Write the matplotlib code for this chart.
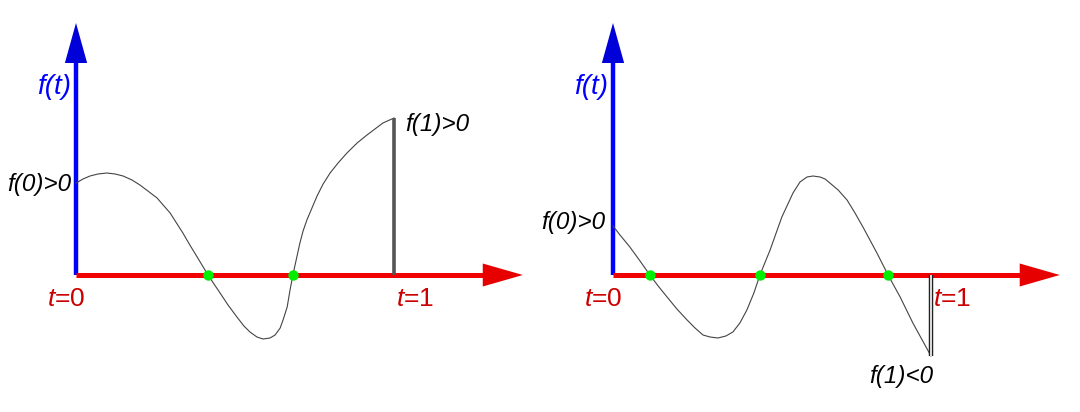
import numpy as np
import matplotlib.pyplot as plt

plt.rcParams['font.family'] = ['Liberation Sans', 'DejaVu Sans']
plt.rcParams['mathtext.fontset'] = 'custom'
plt.rcParams['mathtext.it'] = 'Liberation Sans:italic'
plt.rcParams['mathtext.rm'] = 'Liberation Sans'

# left panel: f(0)>0 and f(1)>0, two roots
t_left = [0.0, 0.022, 0.044, 0.069, 0.097, 0.123, 0.148, 0.176, 0.201, 0.226,
          0.255, 0.274, 0.296, 0.314, 0.336, 0.358, 0.381, 0.415, 0.453, 0.478,
          0.506, 0.528, 0.547, 0.569, 0.588, 0.610, 0.626, 0.642, 0.651, 0.664,
          0.673, 0.682, 0.704, 0.714, 0.726, 0.742, 0.758, 0.777, 0.799, 0.824,
          0.852, 0.884, 0.915, 0.940, 0.965, 1.0]
f_left = [0.92, 0.96, 0.99, 1.01, 1.02, 1.01, 0.99, 0.95, 0.90, 0.84,
          0.77, 0.70, 0.62, 0.53, 0.42, 0.30, 0.18, 0.0, -0.18, -0.30,
          -0.42, -0.51, -0.57, -0.62, -0.64, -0.63, -0.60, -0.53, -0.45, -0.32,
          -0.15, 0.0, 0.32, 0.44, 0.55, 0.67, 0.79, 0.91, 1.02, 1.12,
          1.22, 1.32, 1.40, 1.46, 1.52, 1.57]
roots_left = [0.415, 0.682]

# right panel: f(0)>0 and f(1)<0, three roots
t_right = [0.0, 0.022, 0.053, 0.085, 0.116, 0.142, 0.170, 0.201, 0.233, 0.258,
           0.283, 0.305, 0.330, 0.355, 0.377, 0.399, 0.421, 0.443, 0.462, 0.494,
           0.513, 0.531, 0.550, 0.566, 0.588, 0.610, 0.629, 0.651, 0.667, 0.682,
           0.708, 0.736, 0.761, 0.786, 0.808, 0.830, 0.865, 0.903, 0.943, 1.0]
f_right = [0.49, 0.40, 0.28, 0.14, 0.0, -0.11, -0.22, -0.34, -0.45, -0.53,
           -0.60, -0.62, -0.63, -0.61, -0.57, -0.48, -0.35, -0.18, 0.0, 0.25,
           0.42, 0.58, 0.71, 0.82, 0.93, 0.98, 0.99, 0.98, 0.96, 0.92,
           0.85, 0.75, 0.62, 0.48, 0.35, 0.22, 0.0, -0.22, -0.48, -0.81]
roots_right = [0.116, 0.462, 0.865]

start_labels = ['f(0)>0', 'f(0)>0']
end_labels = ['f(1)>0', 'f(1)<0']

T_ARROW_END = 1.405
T_HEAD_LEN = 0.126
F_HEAD_HALF = 0.115
F_ARROW_END = 2.52
F_HEAD_LEN = 0.40
T_HEAD_HALF = 0.035


def draw_axes_arrows(ax):
    # red t axis
    ax.plot([0, T_ARROW_END - T_HEAD_LEN], [0, 0], color='#f00000', lw=3.6,
            solid_capstyle='butt', zorder=3)
    ax.fill([T_ARROW_END - T_HEAD_LEN, T_ARROW_END, T_ARROW_END - T_HEAD_LEN],
            [F_HEAD_HALF, 0, -F_HEAD_HALF], color='#e60000', lw=0, zorder=3)
    # blue f axis
    ax.plot([0, 0], [0, F_ARROW_END - F_HEAD_LEN], color='#0000ff', lw=3.2,
            solid_capstyle='butt', zorder=2)
    ax.fill([-T_HEAD_HALF, 0, T_HEAD_HALF],
            [F_ARROW_END - F_HEAD_LEN, F_ARROW_END, F_ARROW_END - F_HEAD_LEN],
            color='#0000d8', lw=0, zorder=2)


fig = plt.figure(figsize=(10.8, 4.12), dpi=100)
fig.patch.set_facecolor('white')

ax1 = fig.add_axes([0, 0, 0.5, 1])
ax2 = fig.add_axes([0.5, 0, 0.5, 1])
ax1.set_xlim(-0.239, 1.459)
ax2.set_xlim(-0.2296, 1.4686)
for ax in (ax1, ax2):
    ax.set_ylim(-1.37, 2.75)
    ax.axis('off')
    draw_axes_arrows(ax)
    ax.text(-0.016, 1.88, 'f(t)', color='#0000ff', fontsize=20,
            style='italic', ha='right', va='center')
    ax.text(-0.031, -0.31, r'$\mathit{t}$=0', color='#cc0000', fontsize=19,
            ha='center', va='baseline')
    ax.text(1.007, -0.31, r'$\mathit{t}$=1', color='#cc0000', fontsize=19,
            ha='left', va='baseline', zorder=6)

# left panel
ax1.plot(t_left, f_left, color='#444444', lw=0.8, solid_joinstyle='round',
         zorder=4)
ax1.plot([1, 1], [0, f_left[-1]], color='#555555', lw=2.6,
         solid_capstyle='butt', zorder=4)
ax1.plot(roots_left, np.zeros(len(roots_left)), 'o', color='#00ee00',
         ms=7.5, mec='none', zorder=5)
ax1.text(-0.016, f_left[0] - 0.02, start_labels[0], fontsize=17.5,
         style='italic', ha='right', va='center')
ax1.text(1.035, f_left[-1] - 0.07, end_labels[0], fontsize=17.5,
         style='italic', ha='left', va='center')

# right panel
ax2.plot(t_right, f_right, color='#444444', lw=0.8, solid_joinstyle='round',
         zorder=4)
ax2.plot([1, 1], [0, f_right[-1]], color='#222222', lw=3.2,
         solid_capstyle='butt', zorder=4)
ax2.plot([1, 1], [0, f_right[-1]], color='white', lw=1.2,
         solid_capstyle='butt', zorder=4)
ax2.plot(roots_right, np.zeros(len(roots_right)), 'o', color='#00ee00',
         ms=7.5, mec='none', zorder=5)
ax2.text(-0.025, f_right[0] + 0.03, start_labels[1], fontsize=17.5,
         style='italic', ha='right', va='center')
ax2.text(1.006, f_right[-1] - 0.2, end_labels[1], fontsize=17.5,
         style='italic', ha='right', va='center')

fig.savefig('out.png', dpi=100, facecolor='white')
